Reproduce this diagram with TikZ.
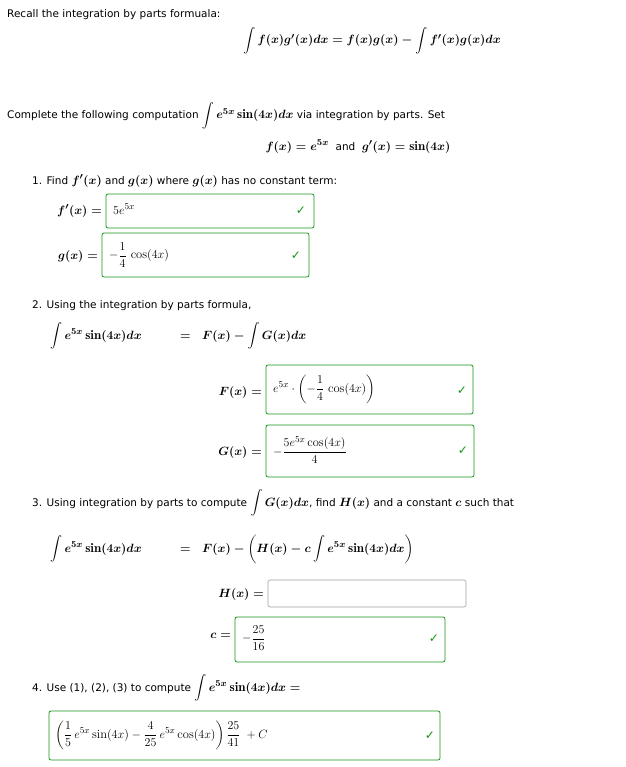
\documentclass[tikz,border=0pt]{standalone}
\usepackage{amsmath}
\usepackage{fontspec}
\newfontfamily\dv{DejaVu Sans}
\definecolor{okgreen}{RGB}{20,150,20}
\definecolor{boxgray}{RGB}{160,160,160}
\newcommand{\bm}[1]{{\fontsize{13}{15}\selectfont\boldmath$\displaystyle #1$}}
\tikzset{
  txt/.style={anchor=west,inner sep=0pt,font=\dv\fontsize{10.5}{12}\selectfont},
  lbl/.style={anchor=east,inner sep=0pt,font=\dv\fontsize{10.5}{12}\selectfont},
  ansbox/.style={draw=okgreen,rounded corners=2pt,line width=0.8pt},
  emptybox/.style={draw=boxgray,rounded corners=2pt,line width=0.6pt},
  ans/.style={anchor=west,inner sep=0pt,font=\fontsize{12.5}{15}\selectfont},
  tick/.style={anchor=center,inner sep=0pt,text=okgreen,font=\fontsize{12}{13}\selectfont\dv}
}
\begin{document}
\begin{tikzpicture}[x=1pt,y=-1pt]
\useasboundingbox (0,0) rectangle (625,767);
\node[txt] (t1) at (7,15) {Recall the integration by parts formuala:};
\node[inner sep=0pt] (f1) at (372,41) {\bm{\int f(x)g'(x)dx = f(x)g(x) - \int f'(x)g(x)dx}};
\node[txt] (t2) at (7,116) {Complete the following computation \bm{\int e^{5x}\sin(4x)dx} via integration by parts. Set};
\node[inner sep=0pt,font=\dv\fontsize{10.5}{12}\selectfont] (t3) at (358,147) {\bm{f(x)=e^{5x}}\ \ and\ \ \bm{g'(x)=\sin(4x)}};
\node[txt] (s1) at (32,181) {1. Find \bm{f'(x)} and \bm{g(x)} where \bm{g(x)} has no constant term:};
% f'
\node[lbl] (l1) at (102,211) {\bm{f'(x)=}};
\draw[ansbox] (106,194) rectangle (314,228);
\node[ans] (a1) at (113,209) {$5e^{5x}$};
\node[tick] (k1) at (301,211) {✓};
% g
\node[lbl] (l2) at (98,256) {\bm{g(x)=}};
\draw[ansbox] (102,233) rectangle (309,277);
\node[ans] (a2) at (109,255) {$\displaystyle-\frac{1}{4}\,\cos(4x)$};
\node[tick] (k2) at (296,256) {✓};
% part 2
\node[txt] (s2) at (32,306) {2. Using the integration by parts formula,};
\node[txt] (e2) at (50,336) {\bm{\int e^{5x}\sin(4x)dx}};
\node[txt] (e2b) at (180,336) {\bm{=\;\;F(x)-\int G(x)dx}};
\node[lbl] (l3) at (262,392) {\bm{F(x)=}};
\draw[ansbox] (266,365) rectangle (473,414);
\node[ans] (a3) at (273,389) {$\displaystyle e^{5x}\cdot\left(-\frac{1}{4}\,\cos(4x)\right)$};
\node[tick] (k3) at (462,391) {✓};
\node[lbl] (l4) at (262,452) {\bm{G(x)=}};
\draw[ansbox] (266,425) rectangle (474,477);
\node[ans] (a4) at (273,450) {$\displaystyle-\frac{5e^{5x}\cos(4x)}{4}$};
\node[tick] (k4) at (463,451) {✓};
% part 3
\node[txt] (s3) at (32,503) {3. Using integration by parts to compute \bm{\int G(x)dx}, find \bm{H(x)} and a constant \bm{c} such that};
\node[txt] (e3) at (50,549) {\bm{\int e^{5x}\sin(4x)dx}};
\node[txt] (e3b) at (180,549) {\bm{=\;\;F(x)-\left(H(x)-c\int e^{5x}\sin(4x)dx\right)}};
\node[lbl] (l5) at (264,594) {\bm{H(x)=}};
\draw[emptybox] (268,580) rectangle (466,607);
\node[lbl] (l6) at (231,636) {\bm{c=}};
\draw[ansbox] (235,617) rectangle (445,662);
\node[ans] (a6) at (242,638) {$\displaystyle-\frac{25}{16}$};
\node[tick] (k6) at (434,639) {✓};
% part 4
\node[txt] (s4) at (32,688) {4. Use (1), (2), (3) to compute \bm{\int e^{5x}\sin(4x)dx=}};
\draw[ansbox] (49,711) rectangle (440,760);
\node[ans] (a7) at (55,735) {$\displaystyle\left(\frac{1}{5}\,e^{5x}\sin(4x)-\frac{4}{25}\,e^{5x}\cos(4x)\right)\frac{25}{41}\;+C$};
\node[tick] (k7) at (430,736) {✓};
\end{tikzpicture}
\end{document}
